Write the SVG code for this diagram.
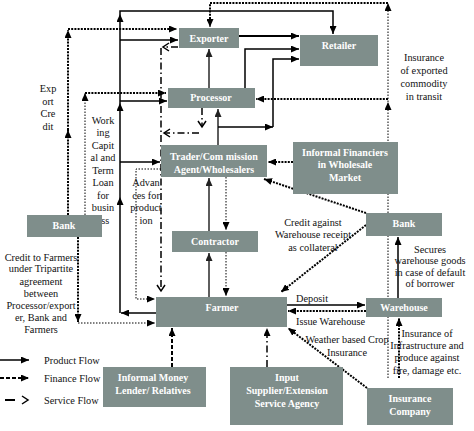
<svg xmlns="http://www.w3.org/2000/svg" width="474" height="431" viewBox="0 0 474 431">
<style>
.box{fill:#7f8e8b}
.nt{fill:#fff;font-family:"Liberation Serif",serif;font-weight:bold;font-size:10px;text-anchor:middle}
.lb{fill:#111;font-family:"Liberation Serif",serif;font-size:10.3px;text-anchor:middle}
.ll{fill:#111;font-family:"Liberation Serif",serif;font-size:10.3px}
.p{stroke:#000;stroke-width:1.5;fill:none}
.pg{stroke:#5e5e5e;stroke-width:2;fill:none}
.f{stroke:#000;stroke-width:2;stroke-dasharray:2 1.2;fill:none}
.ft{stroke:#000;stroke-width:1;stroke-dasharray:1.5 1.5;fill:none}
.d{stroke:#000;stroke-width:2;stroke-dasharray:4 2;fill:none}
.s{stroke:#000;stroke-width:1.5;stroke-dasharray:7 3 1.5 3;fill:none}
</style>
<defs>
<marker id="a" markerUnits="userSpaceOnUse" markerWidth="8" markerHeight="7" refX="8" refY="3.5" orient="auto"><path d="M0,0 L8,3.5 L0,7 z" fill="#000"/></marker>
<marker id="ag" markerUnits="userSpaceOnUse" markerWidth="8" markerHeight="7" refX="8" refY="3.5" orient="auto"><path d="M0,0 L8,3.5 L0,7 z" fill="#222"/></marker>
<marker id="o" markerUnits="userSpaceOnUse" markerWidth="9" markerHeight="10" refX="7" refY="5" orient="auto"><path d="M1,1 L7,5 L1,9" fill="none" stroke="#000" stroke-width="1.5"/></marker>
</defs>
<g id="connectors">
<path class="p" d="M156,313 H121" marker-end="url(#a)"/>
<path class="p" d="M120,313 V197" marker-end="url(#a)"/>
<path class="p" d="M120,197 V103" marker-end="url(#a)"/>
<path class="p" d="M120,103 V14" marker-end="url(#a)"/>
<path class="p" d="M120,14 V11 H333 V34" marker-end="url(#a)"/>
<path class="p" d="M120,162 H160" marker-end="url(#a)"/>
<path class="p" d="M120,101 H167" marker-end="url(#a)"/>
<path class="p" d="M120,40 H178" marker-end="url(#a)"/>
<path class="p" style="stroke-width:2" d="M239,36 H299" marker-end="url(#a)"/>
<path class="pg" d="M209,88 V49" marker-end="url(#ag)"/>
<path class="p" d="M245,88 V49 H299" marker-end="url(#a)"/>
<path class="pg" d="M218,145 V109" marker-end="url(#ag)"/>
<path class="p" d="M218,127 H273" marker-end="url(#a)"/>
<path class="p" d="M273,127 V59 H299" marker-end="url(#a)"/>
<path class="pg" d="M209,231 V178" marker-end="url(#ag)"/>
<path class="pg" d="M209,297 V253" marker-end="url(#ag)"/>
<path class="p" d="M287,305 H365" marker-end="url(#a)"/>
<path class="p" d="M398,298 V237" marker-end="url(#a)"/>
<path class="f" d="M68,215 V130" marker-end="url(#a)"/>
<path class="f" d="M68,130 V30" marker-end="url(#a)"/>
<path class="f" d="M68,29 H177" marker-end="url(#a)"/>
<path class="ft" d="M85,215 V93" marker-end="url(#a)"/>
<path class="f" d="M85,93 H166" marker-end="url(#a)"/>
<path class="ft" d="M161,169 H136 V299 H155" marker-end="url(#a)"/>
<path class="f" d="M78,237 V322" marker-end="url(#a)"/>
<path class="ft" d="M78,323 H155" marker-end="url(#a)"/>
<path class="f" d="M293,162 H268" marker-end="url(#a)"/>
<path class="f" d="M366,213 L264,179" marker-end="url(#a)"/>
<path class="f" d="M366,225 L281,292" marker-end="url(#a)"/>
<path class="f" d="M366,311 H288" marker-end="url(#a)"/>
<path class="ft" d="M226,177 V230" marker-end="url(#a)"/>
<path class="ft" d="M226,252 V296" marker-end="url(#a)"/>
<path class="ft" d="M388,378 V102" marker-end="url(#a)"/>
<path class="ft" d="M388,102 V3" marker-end="url(#a)"/>
<path class="f" d="M388,99 H256" marker-end="url(#a)"/>
<path class="f" d="M388,3 H210 V27" marker-end="url(#a)"/>
<path class="f" d="M399,378 V318" marker-end="url(#a)"/>
<path class="f" d="M367,388 L288,328" marker-end="url(#a)"/>
<path class="d" d="M172,367 V328" marker-end="url(#a)"/>
<path class="s" d="M178,47 H163" marker-end="url(#o)"/>
<path class="s" d="M161,48 V291" marker-end="url(#o)"/>
<path class="s" d="M202,108 V127" marker-end="url(#o)"/>
<path class="s" d="M199,133 H164" marker-end="url(#o)"/>
<path class="s" d="M267,367 V328" marker-end="url(#a)"/>
</g>
<g id="labels">
<text class="lb" x="48" y="92">Exp</text><text class="lb" x="48" y="104.5">ort</text><text class="lb" x="48" y="117">Cre</text><text class="lb" x="48" y="129.5">dit</text>
<text class="lb" x="103" y="123.5">Work</text><text class="lb" x="103" y="136">ing</text><text class="lb" x="103" y="148.5">Capit</text><text class="lb" x="103" y="161">al and</text><text class="lb" x="103" y="173.5">Term</text><text class="lb" x="103" y="186">Loan</text><text class="lb" x="103" y="198.5">for</text><text class="lb" x="103" y="211">busin</text><text class="lb" x="103" y="223.5">ess</text>
<text class="lb" x="146" y="186">Advan</text><text class="lb" x="146" y="198.5">ces for</text><text class="lb" x="146" y="211">product</text><text class="lb" x="146" y="223.5">ion</text>
<text class="lb" x="424" y="60.5">Insurance</text><text class="lb" x="424" y="73.5">of exported</text><text class="lb" x="424" y="86.5">commodity</text><text class="lb" x="424" y="99.5">in transit</text>
<text class="lb" x="313" y="225.5">Credit against</text><text class="lb" x="313" y="238">Warehouse receipt</text><text class="lb" x="313" y="250.5">as collateral</text>
<text class="lb" x="430" y="252.5">Secures</text><text class="lb" x="430" y="264">warehouse goods</text><text class="lb" x="430" y="275.5">in case of default</text><text class="lb" x="430" y="287">of borrower</text>
<text class="lb" x="41" y="260.5">Credit to Farmers</text><text class="lb" x="41" y="272">under Tripartite</text><text class="lb" x="41" y="284.5">agreement</text><text class="lb" x="41" y="296.5">between</text><text class="lb" x="41" y="308.5">Processor/export</text><text class="lb" x="41" y="320.5">er, Bank and</text><text class="lb" x="41" y="332.5">Farmers</text>
<text class="ll" x="296" y="302">Deposit</text>
<text class="ll" x="296" y="325">Issue Warehouse</text>
<text class="lb" x="347" y="342.5">Weather based Crop</text><text class="lb" x="347" y="355.5">Insurance</text>
<text class="lb" x="427" y="336.5">Insurance of</text><text class="lb" x="427" y="348.5">Infrastructure and</text><text class="lb" x="427" y="361">produce against</text><text class="lb" x="427" y="373.5">fire, damage etc.</text>
</g>
<g id="exporter"><rect class="box" x="179" y="28" width="60" height="20"/><text class="nt" x="209" y="41.5">Exporter</text></g>
<g id="retailer"><rect class="box" x="300" y="35" width="78" height="31"/><text class="nt" x="339" y="48.5">Retailer</text></g>
<g id="processor"><rect class="box" x="168" y="88" width="87" height="20"/><text class="nt" x="211" y="100.5">Processor</text></g>
<g id="trader"><rect class="box" x="161" y="145" width="106" height="32"/><text class="nt" x="214" y="159.5">Trader/Com mission</text><text class="nt" x="214" y="172.5">Agent/Wholesalers</text></g>
<g id="informal-financiers"><rect class="box" x="293" y="142" width="105" height="52"/><text class="nt" x="345" y="155.5">Informal Financiers</text><text class="nt" x="345" y="168">in Wholesale</text><text class="nt" x="345" y="180.5">Market</text></g>
<g id="bank-right"><rect class="box" x="366" y="213" width="76" height="23"/><text class="nt" x="404" y="227">Bank</text></g>
<g id="bank-left"><rect class="box" x="27" y="215" width="75" height="22"/><text class="nt" x="64" y="229">Bank</text></g>
<g id="contractor"><rect class="box" x="172" y="231" width="86" height="21"/><text class="nt" x="215" y="245">Contractor</text></g>
<g id="farmer"><rect class="box" x="156" y="297" width="131" height="30"/><text class="nt" x="222" y="311">Farmer</text></g>
<g id="warehouse"><rect class="box" x="366" y="298" width="76" height="19"/><text class="nt" x="404" y="311">Warehouse</text></g>
<g id="money-lender"><rect class="box" x="103" y="367" width="103" height="40"/><text class="nt" x="153" y="381">Informal Money</text><text class="nt" x="153" y="393.5">Lender/ Relatives</text></g>
<g id="input-supplier"><rect class="box" x="230" y="367" width="113" height="58"/><text class="nt" x="287" y="381">Input</text><text class="nt" x="287" y="394">Supplier/Extension</text><text class="nt" x="287" y="407">Service Agency</text></g>
<g id="insurance-company"><rect class="box" x="367" y="388" width="86" height="37"/><text class="nt" x="410" y="402">Insurance</text><text class="nt" x="410" y="415">Company</text></g>
<g id="legend">
<path class="p" d="M0,360 H29" marker-end="url(#a)"/>
<path class="d" d="M0,378 H29" marker-end="url(#a)"/>
<path class="p" style="stroke-width:2" d="M5,400 H15"/>
<path d="M22,396 L28,400 L22,404" fill="none" stroke="#000" stroke-width="1.5"/>
<text class="ll" x="44" y="363.5">Product Flow</text>
<text class="ll" x="44" y="381.5">Finance Flow</text>
<text class="ll" x="44" y="403.5">Service Flow</text>
</g>
</svg>
